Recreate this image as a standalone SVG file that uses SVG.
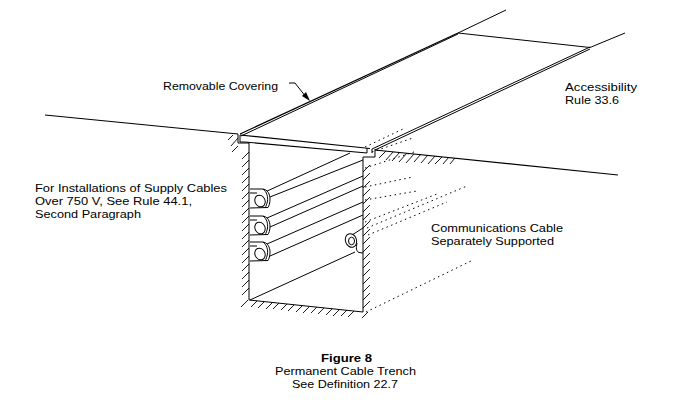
<svg xmlns="http://www.w3.org/2000/svg" width="693" height="403" viewBox="0 0 693 403">
<defs>
<style>
text{font-family:"Liberation Sans",Arial,sans-serif;font-size:11.300px;fill:#000}
.b{font-weight:bold}
.l{fill:none;stroke:#000;stroke-width:1}
.w{fill:none;stroke:#000;stroke-width:1.200}
.h{fill:none;stroke:#000;stroke-width:.9}
.d{fill:none;stroke:#000;stroke-width:1;stroke-dasharray:1.5 3.5}
.t{fill:#fff;stroke:#000;stroke-width:1}
</style>
<g id="cable">
<path class="t" d="M-10 -12H2C8 -12 10 -6 10 -2C10 2 9 5 8 6.500L-10 7"/>
<path class="l" d="M3 -12C7 -9 8 -4 7.500 0C7 3 6 5 5 7M-10 -8H-3"/>
<ellipse class="t" cx="0" cy="0" rx="5" ry="6" transform="rotate(-25)"/>
</g>
</defs>
<rect width="693" height="403" fill="#fff"/>
<g id="ground">
<path class="w" d="M45 115L238 134M375 150L618 175"/>
<path class="h" d="M233 135l-5 5M238 138l-7 8M238 146l-6 6"/>
<path class="h" d="M386 151l-7 7M393 152l-7 8M400 152l-8 9M407 153l-8 9M414 154l-8 9M421 154l-7 8M428 155l-7 8M435 156l-7 8M442 157l-7 7M449 157l-6 7M455 158l-5 6"/>
</g>
<g id="covering">
<path class="w" d="M240 134L458 33"/>
<path class="l" d="M241 136L458 34M458 33L506 10M458 33L590 47.500L625 33"/>
<path class="w" d="M240 135L370 148.500M245 142L367 153"/>
<path class="l" d="M240 135V142H245M367 153V148M372 149V153M372 149L590 47M375 150L590 49"/>
</g>
<g id="trench">
<path class="l" d="M238 134V143H249M249 143V300L363 312V157H375V149"/>
<path class="h" d="M249 152l-7 7M249 160l-7 7M249 168l-7 7M249 176l-7 7M249 184l-7 7M249 192l-7 7M249 200l-7 7M249 208l-7 7M249 216l-7 7M249 224l-7 7M249 232l-7 7M249 240l-7 7M249 248l-7 7M249 256l-7 7M249 264l-7 7M249 272l-7 7M249 280l-7 7M249 288l-7 7M248 300l-7 7"/>
<path class="h" d="M370 165l-7 7M370 173l-7 7M370 181l-7 7M370 189l-7 7M370 197l-7 7M370 205l-7 7M370 213l-7 7M370 221l-7 7M370 229l-7 7M370 237l-7 7M370 245l-7 7M370 253l-7 7M370 261l-7 7M370 269l-7 7M370 277l-7 7M370 285l-7 7M370 293l-7 7M370 301l-7 7M368 312l-6 6"/>
<path class="h" d="M257 301l-6 6M264 302l-6 6M272 303l-6 6M279 303l-6 6M287 304l-6 6M294 305l-6 6M302 306l-6 6M309 307l-6 6M317 307l-6 6M324 308l-6 6M332 309l-6 6M339 310l-6 6M347 310l-6 6M354 311l-6 6"/>
<path class="l" d="M250 300L355 252"/>
<path class="l" d="M265 192L350 153M270 197L363 160M267 218L363 176M270 227L363 186M267 244L363 202M270 256L363 215"/>
</g>
<g id="dotted">
<path class="d" d="M365 147L403 129M372 152L413 138M365 168L417 151M365 187L413 177M365 200L417 191M365 222L437 194M367 228L467 186M368 235L447 202M366 312L473 260"/>
</g>
<g id="cable-1"><use href="#cable" x="260" y="201"/></g>
<g id="cable-2"><use href="#cable" x="260" y="228"/></g>
<g id="cable-3"><use href="#cable" x="260" y="254"/></g>
<g id="cable-4">
<path class="l" d="M352 235L363 228M357 243C356 248 356 251 359 252.500L363 253"/>
<ellipse class="t" cx="351" cy="240.500" rx="5.500" ry="7" transform="rotate(-20 351 240.500)"/>
<ellipse class="l" cx="351.500" cy="241" rx="3" ry="3.800"/>
</g>
<g id="leader">
<path class="l" d="M289 83H295L306 97"/>
<path d="M310 101L302 96L306 92Z" fill="#000"/>
</g>
<g id="labels">
<text x="163" y="90" textLength="115" lengthAdjust="spacingAndGlyphs">Removable Covering</text>
<text x="565" y="91" textLength="72" lengthAdjust="spacingAndGlyphs">Accessibility</text>
<text x="565" y="104" textLength="54" lengthAdjust="spacingAndGlyphs">Rule 33.6</text>
<text x="35" y="192" textLength="192" lengthAdjust="spacingAndGlyphs">For Installations of Supply Cables</text>
<text x="35" y="205" textLength="157" lengthAdjust="spacingAndGlyphs">Over 750 V, See Rule 44.1,</text>
<text x="35" y="218" textLength="106" lengthAdjust="spacingAndGlyphs">Second Paragraph</text>
<text x="431" y="232" textLength="132" lengthAdjust="spacingAndGlyphs">Communications Cable</text>
<text x="431" y="245" textLength="123" lengthAdjust="spacingAndGlyphs">Separately Supported</text>
<text class="b" x="321" y="362" textLength="51" lengthAdjust="spacingAndGlyphs">Figure 8</text>
<text x="275" y="375" textLength="141" lengthAdjust="spacingAndGlyphs">Permanent Cable Trench</text>
<text x="292" y="388" textLength="106" lengthAdjust="spacingAndGlyphs">See Definition 22.7</text>
</g>
</svg>
